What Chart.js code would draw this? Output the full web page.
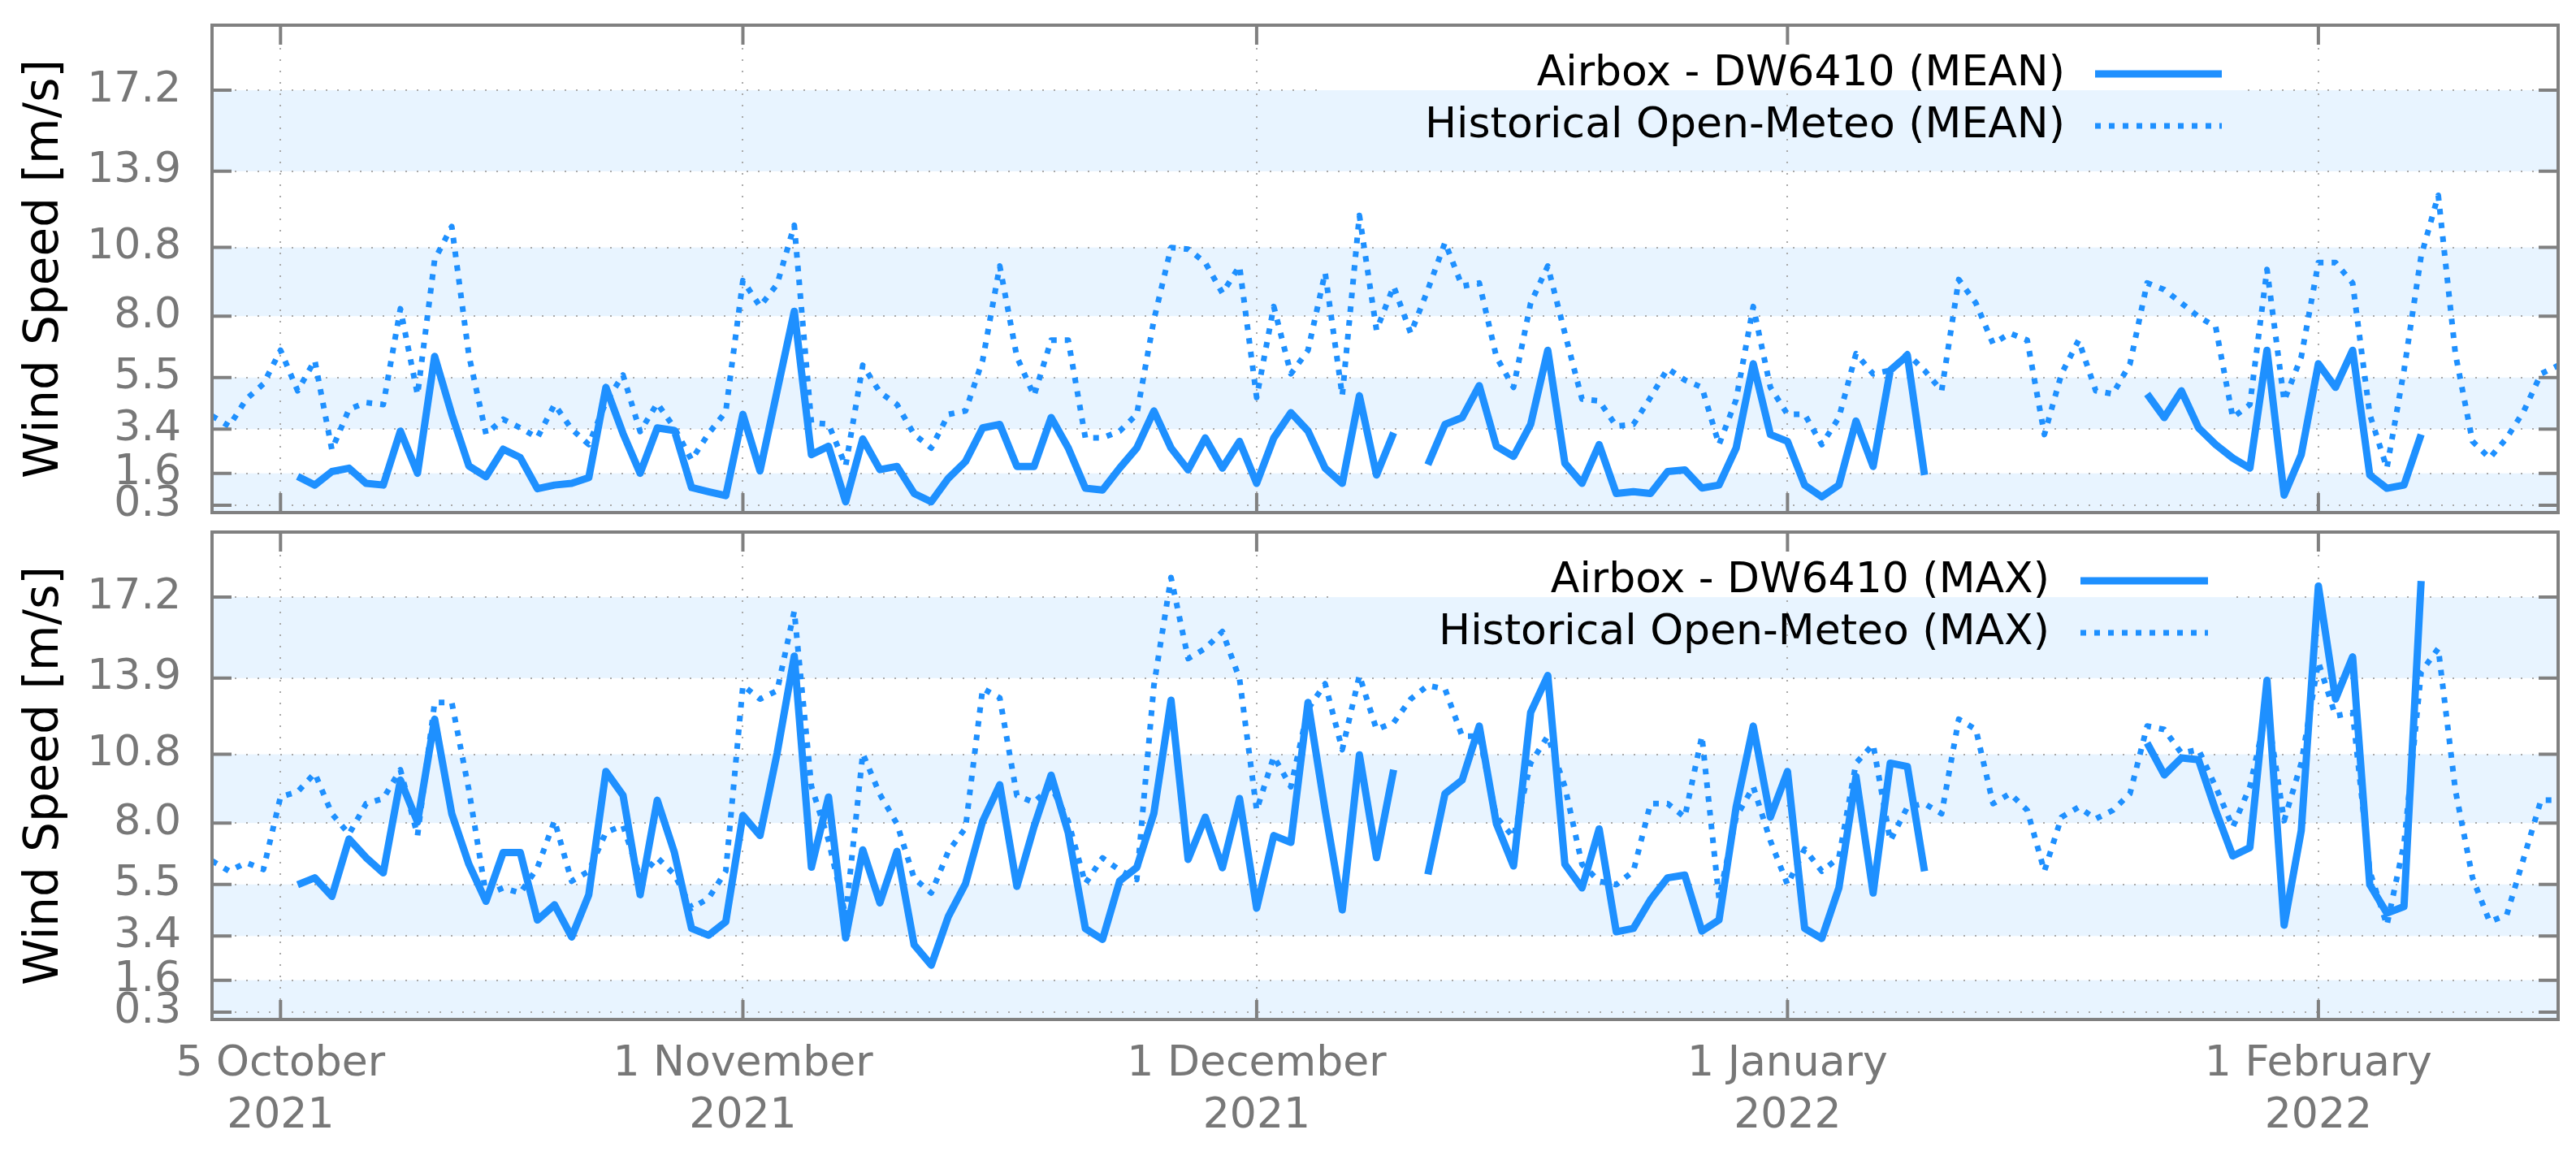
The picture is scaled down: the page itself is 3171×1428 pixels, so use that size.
<!DOCTYPE html>
<html>
<head>
<meta charset="utf-8">
<title>Wind speed: Airbox DW6410 vs Open-Meteo</title>
<script src="https://cdn.jsdelivr.net/npm/chart.js@4.4.1/dist/chart.umd.min.js"></script>
<style>
  html, body { margin: 0; padding: 0; background: #fff; }
  body { width: 3171px; height: 1428px; position: relative; overflow: hidden; }
  canvas { position: absolute; left: 0; }
  #meanChart { top: 0; }
  #maxChart { top: 640px; }
</style>
</head>
<body>
<canvas id="meanChart" width="3171" height="645"></canvas>
<canvas id="maxChart" width="3171" height="788"></canvas>
<script>
// one value per day, day 0 = 1 October 2021, last day = 15 February 2022
const tickDays = [4, 31, 61, 92, 123];
const tickLabels = [
  ['5 October', '2021'],
  ['1 November', '2021'],
  ['1 December', '2021'],
  ['1 January', '2022'],
  ['1 February', '2022']
];
// Beaufort scale limits in m/s
const beaufortTicks = [0.3, 1.6, 3.4, 5.5, 8.0, 10.8, 13.9, 17.2];
const bandRanges = [[0, 1.6], [3.4, 5.5], [8.0, 10.8], [13.9, 17.2]];

const airboxMean = [
  null, null, null, null, null,
  1.47, 1.12, 1.67, 1.81, 1.19, 1.12, 3.32, 1.6, 6.36, 4.0,
  1.9, 1.46, 2.58, 2.24, 0.97, 1.12, 1.19, 1.42, 5.1, 3.22,
  1.6, 3.45, 3.34, 1.02, 0.85, 0.69, 4.0, 1.7, 4.96, 8.2,
  2.36, 2.7, 0.44, 3.0, 1.75, 1.88, 0.78, 0.44, 1.4, 2.08,
  3.45, 3.59, 1.88, 1.88, 3.87, 2.63, 0.99, 0.92, 1.81, 2.63,
  4.14, 2.63, 1.74, 3.04, 1.81, 2.9, 1.19, 3.04, 4.07, 3.32,
  1.81, 1.19, 4.76, 1.53, 3.25, null,
  1.95, 3.59, 3.87, 5.17, 2.7, 2.29, 3.59, 6.61, 2.01, 1.19,
  2.77, 0.78, 0.85, 0.78, 1.67, 1.74, 1.0, 1.12, 2.63, 6.06,
  3.18, 2.9, 1.12, 0.64, 1.12, 3.73, 1.88, 5.79, 6.4, 1.53,
  null, null, null, null, null, null, null, null, null, null, null, null,
  4.83, 3.87, 4.96, 3.45, 2.77, 2.22, 1.81, 6.61, 0.71, 2.36,
  6.06, 5.1, 6.61, 1.53, 0.99, 1.12, 3.18,
  null, null, null, null, null, null, null, null
];
const openMeteoMean = [
  3.94, 3.52, 4.62, 5.24, 6.61, 4.96, 6.2, 2.56, 4.21, 4.48,
  4.4, 8.3, 4.8, 10.3, 11.65, 6.4, 3.2, 3.8, 3.45, 3.05,
  4.4, 3.4, 2.77, 4.5, 5.6, 3.3, 4.45, 3.45, 2.15, 3.22,
  4.11, 9.45, 8.4, 9.3, 11.7, 3.66, 3.6, 1.9, 6.0, 4.9,
  4.4, 3.18, 2.63, 4.0, 4.14, 6.2, 10.04, 6.34, 4.76, 7.02,
  7.02, 3.04, 3.04, 3.32, 4.0, 7.85, 10.79, 10.73, 10.18, 8.94,
  10.04, 4.69, 8.39, 5.65, 6.61, 9.77, 4.76, 12.1, 7.43, 9.22,
  7.3, 9.08, 11.0, 9.22, 9.35, 6.34, 5.1, 8.53, 10.04, 7.3,
  4.62, 4.55, 3.52, 3.59, 4.69, 5.86, 5.4, 5.1, 2.77, 4.6,
  8.39, 5.1, 4.0, 4.0, 2.77, 3.87, 6.47, 5.65, 5.79, 6.47,
  5.79, 4.96, 9.49, 8.53, 6.88, 7.3, 7.02, 3.18, 5.65, 7.02,
  4.96, 4.83, 6.06, 9.35, 9.08, 8.53, 7.98, 7.57, 3.87, 4.4,
  9.9, 4.55, 6.34, 10.18, 10.18, 9.35, 4.0, 1.81, 5.79, 10.45,
  12.92, 6.47, 2.9, 2.22, 3.04, 4.14, 5.65, 5.99
];
const airboxMax = [
  null, null, null, null, null,
  5.49, 5.77, 5.01, 7.35, 6.59, 5.97, 9.75, 8.04, 12.23, 8.38,
  6.32, 4.81, 6.8, 6.8, 4.05, 4.67, 3.36, 5.08, 10.1, 9.13,
  5.08, 8.93, 6.8, 3.71, 3.43, 3.98, 8.31, 7.49, 10.85, 14.8,
  6.2, 9.06, 3.32, 6.91, 4.75, 6.85, 3.04, 2.21, 4.2, 5.53,
  8.07, 9.56, 5.42, 7.85, 9.95, 7.6, 3.7, 3.26, 5.64, 6.19,
  8.4, 13.0, 6.52, 8.24, 6.18, 9.0, 4.53, 7.49, 7.21, 12.91,
  8.52, 4.46, 10.78, 6.59, 10.17, null,
  5.91, 9.2, 9.75, 11.95, 7.97, 6.25, 12.5, 14.01, 6.32, 5.36,
  7.76, 3.57, 3.71, 4.88, 5.77, 5.88, 3.6, 4.05, 8.65, 11.95,
  8.24, 10.1, 3.71, 3.3, 5.36, 9.89, 5.15, 10.44, 10.3, 6.04,
  null, null, null, null, null, null, null, null, null, null, null, null,
  11.26, 9.96, 10.65, 10.58, 8.52, 6.66, 7.0, 13.81, 3.84, 7.69,
  17.65, 13.05, 14.77, 5.49, 4.33, 4.6, 17.86,
  null, null, null, null, null, null, null, null
];
const openMeteoMax = [
  6.46, 6.04, 6.39, 6.11, 9.07, 9.27, 10.03, 8.38, 7.55, 8.79,
  9.0, 10.17, 7.49, 12.91, 12.91, 9.34, 5.08, 5.36, 5.15, 6.18,
  8.1, 5.63, 6.04, 7.62, 7.9, 5.77, 6.59, 5.91, 4.53, 4.94,
  6.04, 13.6, 13.05, 13.39, 16.63, 9.5, 7.3, 4.2, 10.83, 9.17,
  7.96, 5.75, 5.15, 6.85, 7.8, 13.48, 13.1, 9.12, 8.84, 9.5,
  8.07, 5.53, 6.58, 6.08, 5.7, 13.6, 18.0, 14.7, 15.11, 15.8,
  13.88, 8.52, 10.71, 9.48, 12.64, 13.67, 10.99, 14.01, 11.81, 12.09,
  13.05, 13.6, 13.46, 11.54, 11.54, 8.24, 7.42, 10.44, 11.54, 9.48,
  6.32, 5.63, 5.49, 6.04, 8.79, 8.79, 8.24, 11.54, 4.94, 8.24,
  9.48, 7.28, 5.49, 6.94, 6.04, 6.59, 10.44, 11.2, 7.28, 8.65,
  8.79, 8.38, 12.23, 11.81, 8.79, 9.2, 8.52, 6.04, 8.24, 8.65,
  8.17, 8.52, 9.2, 11.95, 11.81, 10.85, 10.99, 9.48, 7.83, 9.48,
  12.64, 8.1, 10.44, 14.56, 12.36, 12.5, 6.04, 3.84, 7.14, 14.15,
  15.11, 9.34, 5.77, 3.98, 4.26, 6.59, 8.93, 8.93
];

const BLUE = '#1e90ff';
const FRAME = '#808080';
const TICK_TEXT = '#777777';
const FONT = "'DejaVu Sans', 'Liberation Sans', sans-serif";

const toPoints = arr => arr.map((v, i) => ({ x: i, y: v }));

// light blue Beaufort bands behind the grid
const bandPlugin = {
  id: 'bands',
  beforeDraw(chart) {
    const { ctx, chartArea: a, scales: { y } } = chart;
    ctx.save();
    ctx.fillStyle = 'rgba(30,144,255,0.1)';
    bandRanges.forEach(([lo, hi]) => {
      const y1 = y.getPixelForValue(hi);
      const y2 = y.getPixelForValue(lo);
      ctx.fillRect(a.left, y1, a.right - a.left, Math.min(y2, a.bottom) - y1);
    });
    ctx.restore();
  }
};

// gnuplot-like frame: border and inward ticks on all four sides
const framePlugin = {
  id: 'frame',
  afterDatasetsDraw(chart) {
    const { ctx, chartArea: a, scales: { x, y } } = chart;
    const len = 24;
    ctx.save();
    ctx.strokeStyle = FRAME;
    ctx.lineWidth = 4;
    ctx.beginPath();
    beaufortTicks.forEach(v => {
      const py = y.getPixelForValue(v);
      ctx.moveTo(a.left, py); ctx.lineTo(a.left + len, py);
      ctx.moveTo(a.right, py); ctx.lineTo(a.right - len, py);
    });
    tickDays.forEach(d => {
      const px = x.getPixelForValue(d);
      ctx.moveTo(px, a.top); ctx.lineTo(px, a.top + len);
      ctx.moveTo(px, a.bottom); ctx.lineTo(px, a.bottom - len);
    });
    ctx.stroke();
    ctx.strokeRect(a.left, a.top, a.right - a.left, a.bottom - a.top);
    ctx.restore();
  }
};

// key in the upper right: text right-aligned, line sample after it
function keyPlugin(cfg) {
  return {
    id: 'key',
    beforeDatasetsDraw(chart) {
      const { ctx, chartArea: a, scales: { y } } = chart;
      const y17 = y.getPixelForValue(17.2);
      ctx.save();
      ctx.fillStyle = '#ffffff';
      ctx.fillRect(a.right - cfg.boxLeft, a.top + 10, cfg.boxLeft - cfg.boxRight, y17 + 2 - a.top - 10);
      ctx.fillStyle = 'rgba(30,144,255,0.1)';
      ctx.fillRect(a.right - cfg.boxLeft, y17, cfg.boxLeft - cfg.boxRight, 2);
      ctx.restore();
    },
    afterDatasetsDraw(chart) {
      const { ctx, chartArea: a } = chart;
      ctx.save();
      ctx.font = '52px ' + FONT;
      ctx.textAlign = 'right';
      ctx.textBaseline = 'middle';
      chart.data.datasets.forEach((ds, i) => {
        const ry = a.top + 60 + i * 64;
        ctx.fillStyle = '#000';
        ctx.fillText(ds.label, a.right - cfg.textRight, ry);
        ctx.strokeStyle = ds.borderColor;
        ctx.lineWidth = ds.borderWidth;
        ctx.setLineDash(ds.borderDash || []);
        ctx.beginPath();
        ctx.moveTo(a.right - cfg.sampleLeft, ry);
        ctx.lineTo(a.right - cfg.sampleRight, ry);
        ctx.stroke();
      });
      ctx.restore();
    }
  };
}

function makeChart(canvasId, airbox, openMeteo, tag, layout) {
  return new Chart(document.getElementById(canvasId), {
    type: 'line',
    data: {
      datasets: [
        {
          label: 'Airbox - DW6410 (' + tag + ')',
          data: toPoints(airbox),
          borderColor: BLUE,
          borderWidth: 9,
          spanGaps: false
        },
        {
          label: 'Historical Open-Meteo (' + tag + ')',
          data: toPoints(openMeteo),
          borderColor: BLUE,
          borderWidth: 7,
          borderDash: [7, 10]
        }
      ]
    },
    options: {
      responsive: false,
      animation: false,
      devicePixelRatio: 1,
      events: [],
      layout: { padding: layout.padding },
      elements: {
        point: { radius: 0 },
        line: { tension: 0, borderCapStyle: 'butt', borderJoinStyle: 'round', fill: false }
      },
      plugins: { legend: { display: false }, tooltip: { enabled: false } },
      scales: {
        x: {
          type: 'linear',
          min: 0,
          max: 137,
          afterBuildTicks: s => { s.ticks = tickDays.map(v => ({ value: v })); },
          afterFit: s => {
            s.height = layout.xHeight;
            s.paddingLeft = 0; s.paddingRight = 0;
          },
          grid: { color: '#aaaaaa', lineWidth: 2, drawTicks: false, borderDash: [2, 12] },
          border: { display: false, dash: [2, 12] },
          ticks: {
            display: layout.showDates,
            autoSkip: false,
            maxRotation: 0,
            padding: 24,
            color: TICK_TEXT,
            font: { family: FONT, size: 52, lineHeight: 1.23 },
            callback: (v, i) => tickLabels[i]
          }
        },
        y: {
          min: 0,
          max: 19.85,
          afterBuildTicks: s => { s.ticks = beaufortTicks.map(v => ({ value: v })); },
          afterFit: s => {
            s.width = 261;
            s.paddingTop = 0; s.paddingBottom = 0;
          },
          grid: { color: '#aaaaaa', lineWidth: 2, drawTicks: false, borderDash: [2, 12] },
          border: { display: false, dash: [2, 12] },
          ticks: {
            autoSkip: false,
            padding: 38,
            color: TICK_TEXT,
            font: { family: FONT, size: 52 },
            callback: v => v.toFixed(1)
          },
          title: {
            display: true,
            text: 'Wind Speed [m/s]',
            color: '#000',
            font: { family: FONT, size: 58 },
            padding: { top: 21, bottom: 0 }
          }
        }
      }
    },
    plugins: [bandPlugin, framePlugin, keyPlugin(layout.key)]
  });
}

makeChart('meanChart', airboxMean, openMeteoMean, 'MEAN', {
  padding: { top: 31, right: 22, bottom: 14, left: 0 },
  xHeight: 0,
  showDates: false,
  key: { textRight: 607, sampleLeft: 570, sampleRight: 414, boxLeft: 1518, boxRight: 384 }
});

makeChart('maxChart', airboxMax, openMeteoMax, 'MAX', {
  padding: { top: 15, right: 22, bottom: 0, left: 0 },
  xHeight: 173,
  showDates: true,
  key: { textRight: 626, sampleLeft: 588, sampleRight: 431, boxLeft: 1504, boxRight: 399 }
});
</script>
</body>
</html>
